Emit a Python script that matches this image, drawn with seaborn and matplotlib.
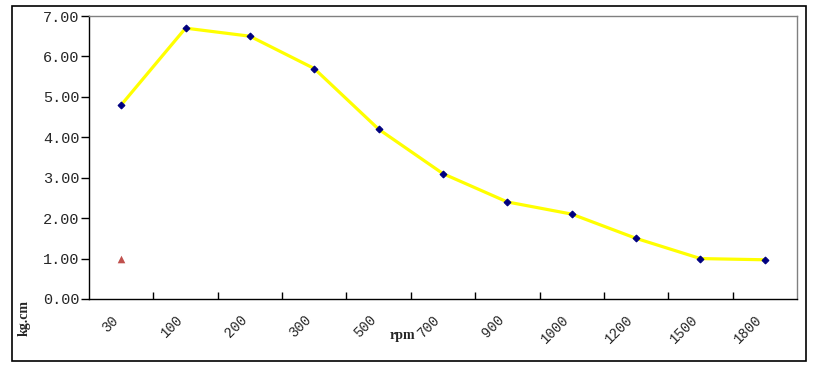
import numpy as np
import pandas as pd
import matplotlib
matplotlib.use("Agg")
import matplotlib.pyplot as plt
import seaborn as sns
from matplotlib.patches import Rectangle
from matplotlib.ticker import FixedLocator

rpm_labels = ["30", "100", "200", "300", "500", "700", "900", "1000", "1200", "1500", "1800"]
torque = [4.8, 6.7, 6.5, 5.7, 4.2, 3.1, 2.4, 2.1, 1.5, 1.0, 0.97]
marker_label = ["30"]
marker_value = [1.0]

sns.set_theme(style="white")
plt.rcParams['font.family'] = ['Liberation Mono', 'DejaVu Sans Mono']

W, H = 816, 369
fig = plt.figure(figsize=(W / 100, H / 100), dpi=100)
ax = fig.add_axes([89 / W, 1 - 299 / H, (797 - 89) / W, (299 - 16) / H])

df = pd.DataFrame({"pos": np.arange(len(rpm_labels)), "torque": torque})
sns.lineplot(data=df, x="pos", y="torque", ax=ax, color="#FFFF00", linewidth=2.3,
             marker="D", markersize=3.5, markerfacecolor="#000080", markeredgecolor="#000080")

mdf = pd.DataFrame({"pos": [rpm_labels.index(l) for l in marker_label], "val": marker_value})
sns.scatterplot(data=mdf, x="pos", y="val", ax=ax, marker="^", s=30, color="#C0504D",
                edgecolor="#C0504D", linewidth=0)

ax.set_xlim(-0.5, len(rpm_labels) - 0.5)
ax.set_ylim(0, 7)
ax.set_yticks(np.arange(0, 7.01, 1))
ax.set_yticklabels([f"{v:.2f}" for v in np.arange(0, 7.01, 1)], fontsize=11)
ax.set_xticks(np.arange(len(rpm_labels)))
ax.set_xticklabels(rpm_labels, rotation=45, ha="right", fontsize=10)
ax.xaxis.set_minor_locator(FixedLocator(np.arange(0.5, len(rpm_labels) - 1, 1)))
ax.tick_params(axis="x", which="major", length=0, pad=10)
ax.tick_params(axis="x", which="minor", length=5, direction="in", width=1, color="black", bottom=True)
ax.tick_params(axis="y", which="major", length=6, direction="out", width=1, color="black", left=True, pad=1)

for s in ["left", "bottom"]:
    ax.spines[s].set_color("black")
    ax.spines[s].set_linewidth(1)
for s in ["top", "right"]:
    ax.spines[s].set_color("#808080")
    ax.spines[s].set_linewidth(1)

ax.set_xlabel("")
ax.set_ylabel("")
fig.text(402 / W, 1 - 336 / H, "rpm", fontsize=10, ha="center", va="center",
         fontweight="bold", family=["Liberation Serif", "DejaVu Serif"])
fig.text(24 / W, 1 - 318 / H, "kg.cm", fontsize=10, rotation=90, ha="center", va="center",
         fontweight="bold", family=["Liberation Serif", "DejaVu Serif"])

fig.patches.append(Rectangle((12 / W, 1 - 361 / H), (806 - 12) / W, (361 - 6) / H,
                             transform=fig.transFigure, fill=False, edgecolor="black",
                             linewidth=1.2))

fig.savefig("out.png", dpi=100)
